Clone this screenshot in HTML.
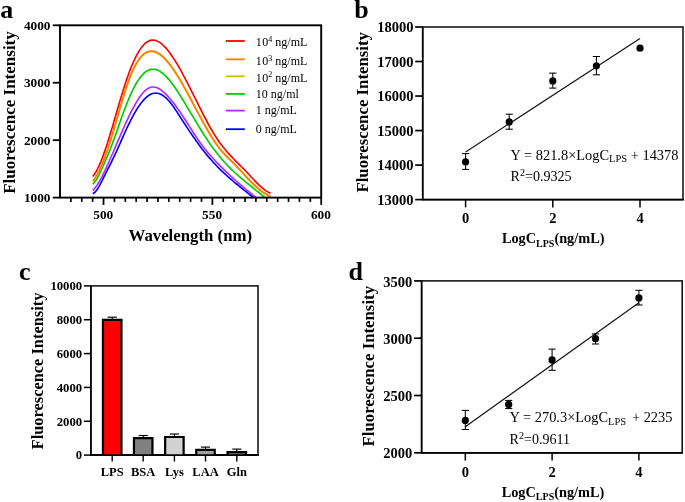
<!DOCTYPE html>
<html lang="en">
<head>
<meta charset="utf-8">
<title>Figure</title>
<style>
html,body{margin:0;padding:0;background:#fff;}
body{width:685px;height:502px;overflow:hidden;}
svg{display:block;font-family:'Liberation Serif', 'Times New Roman', serif;}
svg text{fill:#000;}
</style>
</head>
<body>
<svg width="685" height="502" viewBox="0 0 685 502" font-family="Liberation Serif, Times New Roman, serif">
<rect x="0" y="0" width="685" height="502" fill="#ffffff"/>
<g id="panel-a">
<clipPath id="clipA"><rect x="60.0" y="25.3" width="261.2" height="172.29999999999998"/></clipPath>
<g clip-path="url(#clipA)" fill="none" stroke-width="1.65" stroke-linejoin="round" stroke-linecap="butt">
<path d="M92.8,193.8 L94.3,192.8 L95.8,191.3 L97.3,189.3 L98.8,186.8 L100.3,184.1 L101.8,181.2 L103.3,178.1 L104.8,175.1 L106.3,172.1 L107.8,169.2 L109.3,166.3 L110.8,163.3 L112.3,160.2 L113.8,157.1 L115.3,153.9 L116.8,150.6 L118.3,147.3 L119.8,144.0 L121.2,140.6 L122.7,137.3 L124.2,134.0 L125.7,130.7 L127.2,127.5 L128.7,124.4 L130.2,121.3 L131.7,118.4 L133.2,115.6 L134.7,112.9 L136.2,110.3 L137.7,107.9 L139.2,105.7 L140.7,103.6 L142.2,101.7 L143.7,99.9 L145.2,98.3 L146.7,97.0 L148.2,95.8 L149.7,94.8 L151.2,94.0 L152.7,93.5 L154.2,93.2 L155.7,93.1 L157.2,93.2 L158.7,93.5 L160.2,94.0 L161.7,94.8 L163.2,95.7 L164.7,96.8 L166.2,98.1 L167.7,99.6 L169.2,101.2 L170.7,103.1 L172.2,105.0 L173.7,107.0 L175.1,109.2 L176.6,111.4 L178.1,113.7 L179.6,116.0 L181.1,118.4 L182.6,120.7 L184.1,123.0 L185.6,125.3 L187.1,127.6 L188.6,129.9 L190.1,132.1 L191.6,134.3 L193.1,136.5 L194.6,138.6 L196.1,140.8 L197.6,142.8 L199.1,144.9 L200.6,146.9 L202.1,148.9 L203.6,150.8 L205.1,152.7 L206.6,154.6 L208.1,156.4 L209.6,158.1 L211.1,159.8 L212.6,161.5 L214.1,163.2 L215.6,164.7 L217.1,166.3 L218.6,167.8 L220.1,169.3 L221.6,170.8 L223.1,172.2 L224.6,173.6 L226.1,175.0 L227.6,176.3 L229.0,177.7 L230.5,179.0 L232.0,180.2 L233.5,181.5 L235.0,182.8 L236.5,184.0 L238.0,185.2 L239.5,186.5 L241.0,187.7 L242.5,188.9 L244.0,190.1 L245.5,191.2 L247.0,192.4 L248.5,193.6 L250.0,194.8 L251.5,196.0 L253.0,197.2 L254.5,198.4 L256.0,199.6" stroke="#0000ff"/>
<path d="M92.8,190.6 L94.3,188.9 L95.8,186.9 L97.4,184.7 L98.9,182.3 L100.4,179.6 L101.9,176.8 L103.4,173.8 L105.0,170.6 L106.5,167.3 L108.0,164.0 L109.5,160.5 L111.0,157.0 L112.6,153.5 L114.1,150.0 L115.6,146.4 L117.1,142.9 L118.6,139.4 L120.2,135.8 L121.7,132.4 L123.2,128.9 L124.7,125.5 L126.2,122.2 L127.8,118.9 L129.3,115.7 L130.8,112.6 L132.3,109.6 L133.8,106.8 L135.4,104.0 L136.9,101.4 L138.4,99.0 L139.9,96.7 L141.4,94.7 L143.0,92.8 L144.5,91.2 L146.0,89.8 L147.5,88.7 L149.0,87.9 L150.6,87.3 L152.1,87.0 L153.6,87.0 L155.1,87.2 L156.6,87.6 L158.2,88.3 L159.7,89.1 L161.2,90.1 L162.7,91.3 L164.2,92.6 L165.8,94.1 L167.3,95.6 L168.8,97.3 L170.3,99.0 L171.8,100.9 L173.4,102.8 L174.9,104.8 L176.4,106.8 L177.9,109.0 L179.5,111.2 L181.0,113.4 L182.5,115.7 L184.0,118.0 L185.5,120.3 L187.1,122.7 L188.6,125.1 L190.1,127.4 L191.6,129.8 L193.1,132.2 L194.7,134.5 L196.2,136.8 L197.7,139.1 L199.2,141.3 L200.7,143.4 L202.3,145.5 L203.8,147.5 L205.3,149.4 L206.8,151.3 L208.3,153.1 L209.9,154.8 L211.4,156.5 L212.9,158.2 L214.4,159.8 L215.9,161.5 L217.5,163.1 L219.0,164.6 L220.5,166.2 L222.0,167.7 L223.5,169.2 L225.1,170.7 L226.6,172.1 L228.1,173.6 L229.6,175.0 L231.1,176.4 L232.7,177.8 L234.2,179.2 L235.7,180.5 L237.2,181.9 L238.7,183.2 L240.3,184.5 L241.8,185.8 L243.3,187.1 L244.8,188.4 L246.3,189.6 L247.9,190.9 L249.4,192.1 L250.9,193.4 L252.4,194.6 L253.9,195.9 L255.5,197.1 L257.0,198.3 L258.5,199.5" stroke="#b428ff"/>
<path d="M92.8,184.1 L94.4,182.5 L96.0,180.3 L97.6,177.6 L99.2,174.5 L100.8,171.1 L102.4,167.5 L104.1,163.8 L105.7,160.2 L107.3,156.5 L108.9,152.6 L110.5,148.5 L112.1,144.3 L113.7,139.9 L115.3,135.5 L116.9,130.9 L118.5,126.4 L120.1,121.8 L121.7,117.3 L123.3,112.8 L124.9,108.5 L126.6,104.3 L128.2,100.2 L129.8,96.4 L131.4,92.8 L133.0,89.5 L134.6,86.4 L136.2,83.5 L137.8,80.9 L139.4,78.6 L141.0,76.5 L142.6,74.6 L144.2,73.0 L145.8,71.7 L147.4,70.7 L149.1,69.9 L150.7,69.4 L152.3,69.2 L153.9,69.2 L155.5,69.4 L157.1,69.9 L158.7,70.6 L160.3,71.6 L161.9,72.7 L163.5,74.0 L165.1,75.5 L166.7,77.1 L168.3,78.9 L170.0,80.8 L171.6,82.9 L173.2,85.0 L174.8,87.3 L176.4,89.7 L178.0,92.1 L179.6,94.6 L181.2,97.2 L182.8,99.8 L184.4,102.4 L186.0,105.1 L187.6,107.8 L189.2,110.5 L190.8,113.2 L192.5,115.9 L194.1,118.6 L195.7,121.2 L197.3,123.9 L198.9,126.6 L200.5,129.2 L202.1,131.8 L203.7,134.3 L205.3,136.9 L206.9,139.3 L208.5,141.7 L210.1,144.1 L211.7,146.4 L213.4,148.6 L215.0,150.7 L216.6,152.8 L218.2,154.8 L219.8,156.8 L221.4,158.7 L223.0,160.5 L224.6,162.3 L226.2,164.0 L227.8,165.7 L229.4,167.3 L231.0,168.9 L232.6,170.5 L234.2,172.0 L235.9,173.5 L237.5,174.9 L239.1,176.3 L240.7,177.7 L242.3,179.1 L243.9,180.4 L245.5,181.8 L247.1,183.1 L248.7,184.4 L250.3,185.7 L251.9,187.0 L253.5,188.3 L255.1,189.6 L256.7,190.9 L258.4,192.2 L260.0,193.5 L261.6,194.8 L263.2,196.1 L264.8,197.5 L266.4,198.8 L268.0,200.2" stroke="#00cc00"/>
<path d="M92.8,180.9 L94.4,178.9 L96.1,176.5 L97.7,173.7 L99.3,170.5 L101.0,167.0 L102.6,163.1 L104.2,158.9 L105.8,154.5 L107.5,149.8 L109.1,144.8 L110.7,139.7 L112.4,134.3 L114.0,128.8 L115.6,123.2 L117.3,117.6 L118.9,111.9 L120.5,106.3 L122.2,100.7 L123.8,95.3 L125.4,90.1 L127.1,85.1 L128.7,80.4 L130.3,76.1 L131.9,72.1 L133.6,68.5 L135.2,65.3 L136.8,62.4 L138.5,59.9 L140.1,57.7 L141.7,55.8 L143.4,54.3 L145.0,53.1 L146.6,52.1 L148.3,51.5 L149.9,51.1 L151.5,51.0 L153.2,51.1 L154.8,51.5 L156.4,52.1 L158.0,52.9 L159.7,53.9 L161.3,55.2 L162.9,56.6 L164.6,58.1 L166.2,59.9 L167.8,61.8 L169.5,63.8 L171.1,65.9 L172.7,68.2 L174.4,70.6 L176.0,73.1 L177.6,75.7 L179.3,78.3 L180.9,81.1 L182.5,83.9 L184.1,86.8 L185.8,89.7 L187.4,92.7 L189.0,95.7 L190.7,98.8 L192.3,101.8 L193.9,104.9 L195.6,108.0 L197.2,111.1 L198.8,114.1 L200.5,117.2 L202.1,120.2 L203.7,123.1 L205.4,126.1 L207.0,128.9 L208.6,131.7 L210.2,134.4 L211.9,137.1 L213.5,139.6 L215.1,142.1 L216.8,144.4 L218.4,146.7 L220.0,148.8 L221.7,150.7 L223.3,152.6 L224.9,154.4 L226.6,156.1 L228.2,157.7 L229.8,159.3 L231.5,160.9 L233.1,162.5 L234.7,164.1 L236.3,165.8 L238.0,167.5 L239.6,169.2 L241.2,171.0 L242.9,172.8 L244.5,174.5 L246.1,176.3 L247.8,178.1 L249.4,179.8 L251.0,181.5 L252.7,183.1 L254.3,184.7 L255.9,186.2 L257.6,187.7 L259.2,189.1 L260.8,190.4 L262.4,191.6 L264.1,192.7 L265.7,193.8 L267.3,194.7 L269.0,195.5 L270.6,196.2" stroke="#c8c000" transform="translate(0,0.6)"/>
<path d="M92.8,180.9 L94.4,178.9 L96.1,176.5 L97.7,173.7 L99.3,170.5 L101.0,167.0 L102.6,163.1 L104.2,158.9 L105.8,154.5 L107.5,149.8 L109.1,144.8 L110.7,139.7 L112.4,134.3 L114.0,128.8 L115.6,123.2 L117.3,117.6 L118.9,111.9 L120.5,106.3 L122.2,100.7 L123.8,95.3 L125.4,90.1 L127.1,85.1 L128.7,80.4 L130.3,76.1 L131.9,72.1 L133.6,68.5 L135.2,65.3 L136.8,62.4 L138.5,59.9 L140.1,57.7 L141.7,55.8 L143.4,54.3 L145.0,53.1 L146.6,52.1 L148.3,51.5 L149.9,51.1 L151.5,51.0 L153.2,51.1 L154.8,51.5 L156.4,52.1 L158.0,52.9 L159.7,53.9 L161.3,55.2 L162.9,56.6 L164.6,58.1 L166.2,59.9 L167.8,61.8 L169.5,63.8 L171.1,65.9 L172.7,68.2 L174.4,70.6 L176.0,73.1 L177.6,75.7 L179.3,78.3 L180.9,81.1 L182.5,83.9 L184.1,86.8 L185.8,89.7 L187.4,92.7 L189.0,95.7 L190.7,98.8 L192.3,101.8 L193.9,104.9 L195.6,108.0 L197.2,111.1 L198.8,114.1 L200.5,117.2 L202.1,120.2 L203.7,123.1 L205.4,126.1 L207.0,128.9 L208.6,131.7 L210.2,134.4 L211.9,137.1 L213.5,139.6 L215.1,142.1 L216.8,144.4 L218.4,146.7 L220.0,148.8 L221.7,150.7 L223.3,152.6 L224.9,154.4 L226.6,156.1 L228.2,157.7 L229.8,159.3 L231.5,160.9 L233.1,162.5 L234.7,164.1 L236.3,165.8 L238.0,167.5 L239.6,169.2 L241.2,171.0 L242.9,172.8 L244.5,174.5 L246.1,176.3 L247.8,178.1 L249.4,179.8 L251.0,181.5 L252.7,183.1 L254.3,184.7 L255.9,186.2 L257.6,187.7 L259.2,189.1 L260.8,190.4 L262.4,191.6 L264.1,192.7 L265.7,193.8 L267.3,194.7 L269.0,195.5 L270.6,196.2" stroke="#ff7f00"/>
<path d="M92.8,176.4 L94.4,174.3 L96.1,171.6 L97.7,168.6 L99.3,165.1 L101.0,161.3 L102.6,157.1 L104.2,152.6 L105.8,147.9 L107.5,142.9 L109.1,137.7 L110.7,132.3 L112.4,126.9 L114.0,121.3 L115.6,115.7 L117.3,110.1 L118.9,104.5 L120.5,99.0 L122.2,93.6 L123.8,88.3 L125.4,83.2 L127.1,78.4 L128.7,73.7 L130.3,69.4 L131.9,65.3 L133.6,61.5 L135.2,58.1 L136.8,54.9 L138.5,52.0 L140.1,49.4 L141.7,47.1 L143.4,45.2 L145.0,43.5 L146.6,42.2 L148.3,41.2 L149.9,40.5 L151.5,40.1 L153.2,40.0 L154.8,40.2 L156.4,40.7 L158.0,41.4 L159.7,42.4 L161.3,43.6 L162.9,45.0 L164.6,46.6 L166.2,48.4 L167.8,50.3 L169.5,52.4 L171.1,54.7 L172.7,57.1 L174.4,59.6 L176.0,62.2 L177.6,64.9 L179.3,67.7 L180.9,70.6 L182.5,73.6 L184.1,76.7 L185.8,79.8 L187.4,82.9 L189.0,86.1 L190.7,89.4 L192.3,92.6 L193.9,95.9 L195.6,99.2 L197.2,102.4 L198.8,105.7 L200.5,109.0 L202.1,112.2 L203.7,115.3 L205.4,118.5 L207.0,121.5 L208.6,124.6 L210.2,127.5 L211.9,130.3 L213.5,133.1 L215.1,135.7 L216.8,138.3 L218.4,140.7 L220.0,143.0 L221.7,145.2 L223.3,147.3 L224.9,149.3 L226.6,151.2 L228.2,153.1 L229.8,154.9 L231.5,156.6 L233.1,158.3 L234.7,160.0 L236.3,161.6 L238.0,163.2 L239.6,164.9 L241.2,166.5 L242.9,168.1 L244.5,169.8 L246.1,171.5 L247.8,173.3 L249.4,175.0 L251.0,176.8 L252.7,178.5 L254.3,180.2 L255.9,181.9 L257.6,183.6 L259.2,185.2 L260.8,186.7 L262.4,188.1 L264.1,189.4 L265.7,190.6 L267.3,191.6 L269.0,192.6 L270.6,193.3" stroke="#ff0000"/>
</g>
<rect x="60.0" y="25.3" width="261.20" height="172.30" fill="none" stroke="#000" stroke-width="1.9"/>
<line x1="52.80" y1="197.60" x2="60.00" y2="197.60" stroke="#000" stroke-width="1.8" stroke-linecap="butt"/>
<text x="50.50" y="202.10" font-size="13.3" font-weight="bold" text-anchor="end">1000</text>
<line x1="52.80" y1="140.17" x2="60.00" y2="140.17" stroke="#000" stroke-width="1.8" stroke-linecap="butt"/>
<text x="50.50" y="144.67" font-size="13.3" font-weight="bold" text-anchor="end">2000</text>
<line x1="52.80" y1="82.73" x2="60.00" y2="82.73" stroke="#000" stroke-width="1.8" stroke-linecap="butt"/>
<text x="50.50" y="87.23" font-size="13.3" font-weight="bold" text-anchor="end">3000</text>
<line x1="52.80" y1="25.30" x2="60.00" y2="25.30" stroke="#000" stroke-width="1.8" stroke-linecap="butt"/>
<text x="50.50" y="29.80" font-size="13.3" font-weight="bold" text-anchor="end">4000</text>
<line x1="70.88" y1="197.60" x2="70.88" y2="201.90" stroke="#000" stroke-width="1.7" stroke-linecap="butt"/>
<line x1="81.77" y1="197.60" x2="81.77" y2="201.90" stroke="#000" stroke-width="1.7" stroke-linecap="butt"/>
<line x1="92.65" y1="197.60" x2="92.65" y2="201.90" stroke="#000" stroke-width="1.7" stroke-linecap="butt"/>
<line x1="103.53" y1="197.60" x2="103.53" y2="204.90" stroke="#000" stroke-width="1.75" stroke-linecap="butt"/>
<line x1="114.42" y1="197.60" x2="114.42" y2="201.90" stroke="#000" stroke-width="1.7" stroke-linecap="butt"/>
<line x1="125.30" y1="197.60" x2="125.30" y2="201.90" stroke="#000" stroke-width="1.7" stroke-linecap="butt"/>
<line x1="136.18" y1="197.60" x2="136.18" y2="201.90" stroke="#000" stroke-width="1.7" stroke-linecap="butt"/>
<line x1="147.07" y1="197.60" x2="147.07" y2="201.90" stroke="#000" stroke-width="1.7" stroke-linecap="butt"/>
<line x1="157.95" y1="197.60" x2="157.95" y2="201.90" stroke="#000" stroke-width="1.7" stroke-linecap="butt"/>
<line x1="168.83" y1="197.60" x2="168.83" y2="201.90" stroke="#000" stroke-width="1.7" stroke-linecap="butt"/>
<line x1="179.72" y1="197.60" x2="179.72" y2="201.90" stroke="#000" stroke-width="1.7" stroke-linecap="butt"/>
<line x1="190.60" y1="197.60" x2="190.60" y2="201.90" stroke="#000" stroke-width="1.7" stroke-linecap="butt"/>
<line x1="201.48" y1="197.60" x2="201.48" y2="201.90" stroke="#000" stroke-width="1.7" stroke-linecap="butt"/>
<line x1="212.37" y1="197.60" x2="212.37" y2="204.90" stroke="#000" stroke-width="1.75" stroke-linecap="butt"/>
<line x1="223.25" y1="197.60" x2="223.25" y2="201.90" stroke="#000" stroke-width="1.7" stroke-linecap="butt"/>
<line x1="234.13" y1="197.60" x2="234.13" y2="201.90" stroke="#000" stroke-width="1.7" stroke-linecap="butt"/>
<line x1="245.02" y1="197.60" x2="245.02" y2="201.90" stroke="#000" stroke-width="1.7" stroke-linecap="butt"/>
<line x1="255.90" y1="197.60" x2="255.90" y2="201.90" stroke="#000" stroke-width="1.7" stroke-linecap="butt"/>
<line x1="266.78" y1="197.60" x2="266.78" y2="201.90" stroke="#000" stroke-width="1.7" stroke-linecap="butt"/>
<line x1="277.67" y1="197.60" x2="277.67" y2="201.90" stroke="#000" stroke-width="1.7" stroke-linecap="butt"/>
<line x1="288.55" y1="197.60" x2="288.55" y2="201.90" stroke="#000" stroke-width="1.7" stroke-linecap="butt"/>
<line x1="299.43" y1="197.60" x2="299.43" y2="201.90" stroke="#000" stroke-width="1.7" stroke-linecap="butt"/>
<line x1="310.32" y1="197.60" x2="310.32" y2="201.90" stroke="#000" stroke-width="1.7" stroke-linecap="butt"/>
<line x1="321.20" y1="197.60" x2="321.20" y2="204.90" stroke="#000" stroke-width="1.75" stroke-linecap="butt"/>
<text x="103.23" y="219.30" font-size="13.3" font-weight="bold" text-anchor="middle">500</text>
<text x="212.07" y="219.30" font-size="13.3" font-weight="bold" text-anchor="middle">550</text>
<text x="320.90" y="219.30" font-size="13.3" font-weight="bold" text-anchor="middle">600</text>
<text x="190.30" y="241.40" font-size="16.8" font-weight="bold" text-anchor="middle">Wavelength (nm)</text>
<text transform="translate(15.30,112.50) rotate(-90)" font-size="17" font-weight="bold" text-anchor="middle">Fluorescence Intensity</text>
<text x="0.30" y="18.30" font-size="26" font-weight="bold" text-anchor="start">a</text>
<line x1="225.80" y1="41.00" x2="244.80" y2="41.00" stroke="#ff0000" stroke-width="1.8" stroke-linecap="butt"/>
<text x="255.80" y="46.30" font-size="12" text-anchor="start">1<tspan dx="0.5">0</tspan><tspan dy="-4.2" font-size="8">4</tspan><tspan dy="4.2"> ng/mL</tspan></text>
<line x1="225.80" y1="59.30" x2="244.80" y2="59.30" stroke="#ff7f00" stroke-width="1.8" stroke-linecap="butt"/>
<text x="255.80" y="65.10" font-size="12" text-anchor="start">1<tspan dx="0.5">0</tspan><tspan dy="-4.2" font-size="8">3</tspan><tspan dy="4.2"> ng/mL</tspan></text>
<line x1="225.80" y1="76.30" x2="244.80" y2="76.30" stroke="#c8c000" stroke-width="1.8" stroke-linecap="butt"/>
<text x="255.80" y="81.50" font-size="12" text-anchor="start">1<tspan dx="0.5">0</tspan><tspan dy="-4.2" font-size="8">2</tspan><tspan dy="4.2"> ng/mL</tspan></text>
<line x1="225.80" y1="93.90" x2="244.80" y2="93.90" stroke="#00cc00" stroke-width="1.8" stroke-linecap="butt"/>
<text x="255.80" y="98.30" font-size="12" text-anchor="start">10 ng/ml</text>
<line x1="225.80" y1="110.60" x2="244.80" y2="110.60" stroke="#b428ff" stroke-width="1.8" stroke-linecap="butt"/>
<text x="255.80" y="114.30" font-size="12" text-anchor="start">1 ng/mL</text>
<line x1="225.80" y1="129.20" x2="244.80" y2="129.20" stroke="#0000ff" stroke-width="1.8" stroke-linecap="butt"/>
<text x="255.80" y="132.60" font-size="12" text-anchor="start">0 ng/mL</text>
</g>
<g id="panel-b">
<rect x="422.7" y="27.0" width="260.30" height="172.60" fill="none" stroke="#000" stroke-width="1.45"/>
<line x1="422.70" y1="27.00" x2="422.70" y2="199.60" stroke="#000" stroke-width="1.6" stroke-linecap="butt"/>
<line x1="421.90" y1="199.60" x2="683.75" y2="199.60" stroke="#000" stroke-width="1.75" stroke-linecap="butt"/>
<line x1="415.20" y1="199.60" x2="422.70" y2="199.60" stroke="#000" stroke-width="1.7" stroke-linecap="butt"/>
<text x="413.40" y="204.90" font-size="14.5" font-weight="bold" text-anchor="end">13000</text>
<line x1="415.20" y1="165.08" x2="422.70" y2="165.08" stroke="#000" stroke-width="1.7" stroke-linecap="butt"/>
<text x="413.40" y="170.38" font-size="14.5" font-weight="bold" text-anchor="end">14000</text>
<line x1="415.20" y1="130.56" x2="422.70" y2="130.56" stroke="#000" stroke-width="1.7" stroke-linecap="butt"/>
<text x="413.40" y="135.86" font-size="14.5" font-weight="bold" text-anchor="end">15000</text>
<line x1="415.20" y1="96.04" x2="422.70" y2="96.04" stroke="#000" stroke-width="1.7" stroke-linecap="butt"/>
<text x="413.40" y="101.34" font-size="14.5" font-weight="bold" text-anchor="end">16000</text>
<line x1="415.20" y1="61.52" x2="422.70" y2="61.52" stroke="#000" stroke-width="1.7" stroke-linecap="butt"/>
<text x="413.40" y="66.82" font-size="14.5" font-weight="bold" text-anchor="end">17000</text>
<line x1="415.20" y1="27.00" x2="422.70" y2="27.00" stroke="#000" stroke-width="1.7" stroke-linecap="butt"/>
<text x="413.40" y="32.30" font-size="14.5" font-weight="bold" text-anchor="end">18000</text>
<line x1="465.60" y1="199.60" x2="465.60" y2="207.40" stroke="#000" stroke-width="1.5" stroke-linecap="butt"/>
<text x="465.60" y="223.00" font-size="14.5" font-weight="bold" text-anchor="middle">0</text>
<line x1="552.80" y1="199.60" x2="552.80" y2="207.40" stroke="#000" stroke-width="1.5" stroke-linecap="butt"/>
<text x="552.80" y="223.00" font-size="14.5" font-weight="bold" text-anchor="middle">2</text>
<line x1="640.00" y1="199.60" x2="640.00" y2="207.40" stroke="#000" stroke-width="1.5" stroke-linecap="butt"/>
<text x="640.00" y="223.00" font-size="14.5" font-weight="bold" text-anchor="middle">4</text>
<line x1="465.60" y1="152.03" x2="640.00" y2="38.56" stroke="#111" stroke-width="1.15" stroke-linecap="butt"/>
<line x1="465.60" y1="169.40" x2="465.60" y2="153.60" stroke="#000" stroke-width="1.05" stroke-linecap="butt"/>
<line x1="462.00" y1="169.40" x2="469.20" y2="169.40" stroke="#000" stroke-width="1.05" stroke-linecap="butt"/>
<line x1="462.00" y1="153.60" x2="469.20" y2="153.60" stroke="#000" stroke-width="1.05" stroke-linecap="butt"/>
<circle cx="465.60" cy="161.90" r="3.6" fill="#000"/>
<line x1="509.20" y1="129.20" x2="509.20" y2="114.20" stroke="#000" stroke-width="1.05" stroke-linecap="butt"/>
<line x1="505.60" y1="129.20" x2="512.80" y2="129.20" stroke="#000" stroke-width="1.05" stroke-linecap="butt"/>
<line x1="505.60" y1="114.20" x2="512.80" y2="114.20" stroke="#000" stroke-width="1.05" stroke-linecap="butt"/>
<circle cx="509.20" cy="121.90" r="3.6" fill="#000"/>
<line x1="552.80" y1="88.10" x2="552.80" y2="73.10" stroke="#000" stroke-width="1.05" stroke-linecap="butt"/>
<line x1="549.20" y1="88.10" x2="556.40" y2="88.10" stroke="#000" stroke-width="1.05" stroke-linecap="butt"/>
<line x1="549.20" y1="73.10" x2="556.40" y2="73.10" stroke="#000" stroke-width="1.05" stroke-linecap="butt"/>
<circle cx="552.80" cy="80.90" r="3.6" fill="#000"/>
<line x1="596.40" y1="74.80" x2="596.40" y2="56.50" stroke="#000" stroke-width="1.05" stroke-linecap="butt"/>
<line x1="592.80" y1="74.80" x2="600.00" y2="74.80" stroke="#000" stroke-width="1.05" stroke-linecap="butt"/>
<line x1="592.80" y1="56.50" x2="600.00" y2="56.50" stroke="#000" stroke-width="1.05" stroke-linecap="butt"/>
<circle cx="596.40" cy="65.80" r="3.6" fill="#000"/>
<circle cx="640.00" cy="48.20" r="3.6" fill="#000"/>
<text x="510.60" y="159.60" font-size="14.4" text-anchor="start" fill="#1a1a1a">Y = 821.8×LogC<tspan dy="2.8" font-size="10.5">LPS</tspan><tspan dy="-2.8"> + 14378</tspan></text>
<text x="510.60" y="180.90" font-size="14.05" text-anchor="start" fill="#1a1a1a">R<tspan dy="-5.2" font-size="10">2</tspan><tspan dy="5.2">=0.9325</tspan></text>
<text x="501.90" y="243.40" font-size="14.3" font-weight="bold" text-anchor="start">LogC<tspan dy="3.1" font-size="10">LPS</tspan><tspan dy="-3.1">(ng/mL)</tspan></text>
<text transform="translate(368.00,112.30) rotate(-90)" font-size="16.8" font-weight="bold" text-anchor="middle">Fluorescence Intensity</text>
<text x="354.20" y="18.40" font-size="26" font-weight="bold" text-anchor="start">b</text>
</g>
<g id="panel-d">
<rect x="421.6" y="280.9" width="260.60" height="171.90" fill="none" stroke="#000" stroke-width="1.45"/>
<line x1="421.60" y1="280.90" x2="421.60" y2="452.80" stroke="#000" stroke-width="1.6" stroke-linecap="butt"/>
<line x1="420.80" y1="452.80" x2="682.95" y2="452.80" stroke="#000" stroke-width="1.75" stroke-linecap="butt"/>
<line x1="414.10" y1="452.80" x2="421.60" y2="452.80" stroke="#000" stroke-width="1.7" stroke-linecap="butt"/>
<text x="412.30" y="458.40" font-size="14.5" font-weight="bold" text-anchor="end">2000</text>
<line x1="414.10" y1="395.50" x2="421.60" y2="395.50" stroke="#000" stroke-width="1.7" stroke-linecap="butt"/>
<text x="412.30" y="401.10" font-size="14.5" font-weight="bold" text-anchor="end">2500</text>
<line x1="414.10" y1="338.20" x2="421.60" y2="338.20" stroke="#000" stroke-width="1.7" stroke-linecap="butt"/>
<text x="412.30" y="343.80" font-size="14.5" font-weight="bold" text-anchor="end">3000</text>
<line x1="414.10" y1="280.90" x2="421.60" y2="280.90" stroke="#000" stroke-width="1.7" stroke-linecap="butt"/>
<text x="412.30" y="286.50" font-size="14.5" font-weight="bold" text-anchor="end">3500</text>
<line x1="465.30" y1="452.80" x2="465.30" y2="460.60" stroke="#000" stroke-width="1.5" stroke-linecap="butt"/>
<text x="465.30" y="476.90" font-size="14.5" font-weight="bold" text-anchor="middle">0</text>
<line x1="552.10" y1="452.80" x2="552.10" y2="460.60" stroke="#000" stroke-width="1.5" stroke-linecap="butt"/>
<text x="552.10" y="476.90" font-size="14.5" font-weight="bold" text-anchor="middle">2</text>
<line x1="638.90" y1="452.80" x2="638.90" y2="460.60" stroke="#000" stroke-width="1.5" stroke-linecap="butt"/>
<text x="638.90" y="476.90" font-size="14.5" font-weight="bold" text-anchor="middle">4</text>
<line x1="465.30" y1="426.67" x2="638.90" y2="302.76" stroke="#111" stroke-width="1.15" stroke-linecap="butt"/>
<line x1="465.30" y1="429.50" x2="465.30" y2="410.40" stroke="#000" stroke-width="1.05" stroke-linecap="butt"/>
<line x1="461.70" y1="429.50" x2="468.90" y2="429.50" stroke="#000" stroke-width="1.05" stroke-linecap="butt"/>
<line x1="461.70" y1="410.40" x2="468.90" y2="410.40" stroke="#000" stroke-width="1.05" stroke-linecap="butt"/>
<circle cx="465.30" cy="420.40" r="3.6" fill="#000"/>
<line x1="508.70" y1="408.60" x2="508.70" y2="400.40" stroke="#000" stroke-width="1.05" stroke-linecap="butt"/>
<line x1="505.10" y1="408.60" x2="512.30" y2="408.60" stroke="#000" stroke-width="1.05" stroke-linecap="butt"/>
<line x1="505.10" y1="400.40" x2="512.30" y2="400.40" stroke="#000" stroke-width="1.05" stroke-linecap="butt"/>
<circle cx="508.70" cy="404.40" r="3.6" fill="#000"/>
<line x1="552.10" y1="370.30" x2="552.10" y2="349.10" stroke="#000" stroke-width="1.05" stroke-linecap="butt"/>
<line x1="548.50" y1="370.30" x2="555.70" y2="370.30" stroke="#000" stroke-width="1.05" stroke-linecap="butt"/>
<line x1="548.50" y1="349.10" x2="555.70" y2="349.10" stroke="#000" stroke-width="1.05" stroke-linecap="butt"/>
<circle cx="552.10" cy="359.90" r="3.6" fill="#000"/>
<line x1="595.50" y1="344.00" x2="595.50" y2="333.90" stroke="#000" stroke-width="1.05" stroke-linecap="butt"/>
<line x1="591.90" y1="344.00" x2="599.10" y2="344.00" stroke="#000" stroke-width="1.05" stroke-linecap="butt"/>
<line x1="591.90" y1="333.90" x2="599.10" y2="333.90" stroke="#000" stroke-width="1.05" stroke-linecap="butt"/>
<circle cx="595.50" cy="338.70" r="3.6" fill="#000"/>
<line x1="638.90" y1="305.00" x2="638.90" y2="290.30" stroke="#000" stroke-width="1.05" stroke-linecap="butt"/>
<line x1="635.30" y1="305.00" x2="642.50" y2="305.00" stroke="#000" stroke-width="1.05" stroke-linecap="butt"/>
<line x1="635.30" y1="290.30" x2="642.50" y2="290.30" stroke="#000" stroke-width="1.05" stroke-linecap="butt"/>
<circle cx="638.90" cy="297.90" r="3.6" fill="#000"/>
<text x="509.60" y="422.30" font-size="14.4" text-anchor="start" fill="#1a1a1a">Y = 270.3×LogC<tspan dy="2.8" font-size="10.5">LPS</tspan><tspan dy="-2.8" dx="2.2"> + 2235</tspan></text>
<text x="509.60" y="443.70" font-size="14.05" text-anchor="start" fill="#1a1a1a">R<tspan dy="-5.2" font-size="10">2</tspan><tspan dy="5.2">=0.9611</tspan></text>
<text x="501.70" y="496.80" font-size="14.3" font-weight="bold" text-anchor="start">LogC<tspan dy="3.1" font-size="10">LPS</tspan><tspan dy="-3.1">(ng/mL)</tspan></text>
<text transform="translate(374.00,366.20) rotate(-90)" font-size="16.8" font-weight="bold" text-anchor="middle">Fluorescence Intensity</text>
<text x="348.50" y="280.30" font-size="26" font-weight="bold" text-anchor="start">d</text>
</g>
<g id="panel-c">
<rect x="90.9" y="285.9" width="167.10" height="169.20" fill="none" stroke="#000" stroke-width="1.45"/>
<line x1="90.90" y1="285.90" x2="90.90" y2="455.10" stroke="#000" stroke-width="1.5" stroke-linecap="butt"/>
<line x1="90.20" y1="455.10" x2="258.60" y2="455.10" stroke="#000" stroke-width="1.5" stroke-linecap="butt"/>
<line x1="83.90" y1="455.10" x2="90.90" y2="455.10" stroke="#000" stroke-width="1.5" stroke-linecap="butt"/>
<text x="82.10" y="459.40" font-size="12.7" font-weight="bold" text-anchor="end">0</text>
<line x1="83.90" y1="421.26" x2="90.90" y2="421.26" stroke="#000" stroke-width="1.5" stroke-linecap="butt"/>
<text x="82.10" y="425.56" font-size="12.7" font-weight="bold" text-anchor="end">2000</text>
<line x1="83.90" y1="387.42" x2="90.90" y2="387.42" stroke="#000" stroke-width="1.5" stroke-linecap="butt"/>
<text x="82.10" y="391.72" font-size="12.7" font-weight="bold" text-anchor="end">4000</text>
<line x1="83.90" y1="353.58" x2="90.90" y2="353.58" stroke="#000" stroke-width="1.5" stroke-linecap="butt"/>
<text x="82.10" y="357.88" font-size="12.7" font-weight="bold" text-anchor="end">6000</text>
<line x1="83.90" y1="319.74" x2="90.90" y2="319.74" stroke="#000" stroke-width="1.5" stroke-linecap="butt"/>
<text x="82.10" y="324.04" font-size="12.7" font-weight="bold" text-anchor="end">8000</text>
<line x1="83.90" y1="285.90" x2="90.90" y2="285.90" stroke="#000" stroke-width="1.5" stroke-linecap="butt"/>
<text x="82.10" y="290.20" font-size="12.7" font-weight="bold" text-anchor="end">10000</text>
<line x1="112.20" y1="317.20" x2="112.20" y2="319.90" stroke="#000" stroke-width="1.1" stroke-linecap="butt"/>
<line x1="107.60" y1="317.20" x2="116.80" y2="317.20" stroke="#000" stroke-width="1.15" stroke-linecap="butt"/>
<path d="M102.95,455.10 L102.95,319.90 L121.45,319.90 L121.45,455.10" fill="#ff0000" stroke="#000" stroke-width="2.2" stroke-linejoin="miter"/>
<line x1="112.20" y1="455.10" x2="112.20" y2="461.50" stroke="#000" stroke-width="1.4" stroke-linecap="butt"/>
<text x="112.20" y="475.60" font-size="12.5" font-weight="bold" text-anchor="middle">LPS</text>
<line x1="143.20" y1="435.50" x2="143.20" y2="438.20" stroke="#000" stroke-width="1.1" stroke-linecap="butt"/>
<line x1="138.60" y1="435.50" x2="147.80" y2="435.50" stroke="#000" stroke-width="1.15" stroke-linecap="butt"/>
<path d="M133.95,455.10 L133.95,438.20 L152.45,438.20 L152.45,455.10" fill="#808080" stroke="#000" stroke-width="2.2" stroke-linejoin="miter"/>
<line x1="143.20" y1="455.10" x2="143.20" y2="461.50" stroke="#000" stroke-width="1.4" stroke-linecap="butt"/>
<text x="143.20" y="475.60" font-size="12.5" font-weight="bold" text-anchor="middle">BSA</text>
<line x1="174.40" y1="434.00" x2="174.40" y2="437.00" stroke="#000" stroke-width="1.1" stroke-linecap="butt"/>
<line x1="169.80" y1="434.00" x2="179.00" y2="434.00" stroke="#000" stroke-width="1.15" stroke-linecap="butt"/>
<path d="M165.15,455.10 L165.15,437.00 L183.65,437.00 L183.65,455.10" fill="#d2d2d2" stroke="#000" stroke-width="2.2" stroke-linejoin="miter"/>
<line x1="174.40" y1="455.10" x2="174.40" y2="461.50" stroke="#000" stroke-width="1.4" stroke-linecap="butt"/>
<text x="174.40" y="475.60" font-size="12.5" font-weight="bold" text-anchor="middle">Lys</text>
<line x1="205.50" y1="447.10" x2="205.50" y2="449.80" stroke="#000" stroke-width="1.1" stroke-linecap="butt"/>
<line x1="200.90" y1="447.10" x2="210.10" y2="447.10" stroke="#000" stroke-width="1.15" stroke-linecap="butt"/>
<path d="M196.25,455.10 L196.25,449.80 L214.75,449.80 L214.75,455.10" fill="#a0a0a0" stroke="#000" stroke-width="2.2" stroke-linejoin="miter"/>
<line x1="205.50" y1="455.10" x2="205.50" y2="461.50" stroke="#000" stroke-width="1.4" stroke-linecap="butt"/>
<text x="205.50" y="475.60" font-size="12.5" font-weight="bold" text-anchor="middle">LAA</text>
<line x1="236.80" y1="449.10" x2="236.80" y2="452.00" stroke="#000" stroke-width="1.1" stroke-linecap="butt"/>
<line x1="232.20" y1="449.10" x2="241.40" y2="449.10" stroke="#000" stroke-width="1.15" stroke-linecap="butt"/>
<path d="M227.55,455.10 L227.55,452.00 L246.05,452.00 L246.05,455.10" fill="#5a5a5a" stroke="#000" stroke-width="2.2" stroke-linejoin="miter"/>
<line x1="236.80" y1="455.10" x2="236.80" y2="461.50" stroke="#000" stroke-width="1.4" stroke-linecap="butt"/>
<text x="236.80" y="475.60" font-size="12.5" font-weight="bold" text-anchor="middle">Gln</text>
<line x1="90.20" y1="455.10" x2="258.60" y2="455.10" stroke="#000" stroke-width="1.5" stroke-linecap="butt"/>
<text transform="translate(42.60,371.00) rotate(-90)" font-size="16.4" font-weight="bold" text-anchor="middle">Fluorescence Intensity</text>
<text x="19.00" y="280.20" font-size="26" font-weight="bold" text-anchor="start">c</text>
</g>
</svg>
</body>
</html>
